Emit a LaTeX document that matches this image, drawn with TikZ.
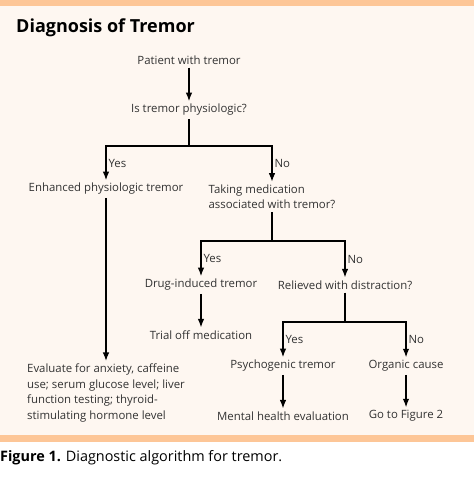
\documentclass[tikz,border=0pt]{standalone}
\usepackage{fontspec}
\setmainfont{Open Sans}
\usepackage{xcolor}
\usetikzlibrary{arrows.meta,calc}
\definecolor{bandorange}{HTML}{FDC697}
\definecolor{paper}{HTML}{FEF7F1}
\definecolor{inkgray}{HTML}{333333}
\begin{document}
\begin{tikzpicture}[x=1pt,y=-1pt,
        txt/.style={inner sep=3pt, text=inkgray, font=\fontsize{11.4}{15.4}\selectfont},
        flow/.style={line width=1.1pt, black},
        flowarrow/.style={flow, -{Latex[length=8.5pt,width=6.5pt]}},
        branch/.style={inner sep=2pt, text=inkgray, font=\fontsize{11.4}{13}\selectfont}]
        % page and bands
        \useasboundingbox (0,0) rectangle (474,478);
        \fill[white] (0,0) rectangle (474,478);
        \fill[paper] (0,0) rectangle (474,442);
        \fill[bandorange] (0,0) rectangle (474,6);
        \fill[bandorange] (0,435) rectangle (474,442);

        % coordinates
        \coordinate (j1) at (189,146);
        \coordinate (j3) at (272,241);
        \coordinate (j4) at (345,322);

        % Text
        \node[anchor=west, inner sep=0pt, text=black, font=\fontsize{18}{21}\bfseries\selectfont] (title) at (16,28) {Diagnosis of Tremor};
        \node[txt] (pat) at (189,60) {Patient with tremor};
        \node[txt] (phys) at (189,110) {Is tremor physiologic?};
        \node[txt] (enh) at (106,189) {Enhanced physiologic tremor};
        \node[txt, align=left] (med) at (272,197) {Taking medication\\associated with tremor?};
        \node[txt, align=left] (eval) at (106,393) {Evaluate for anxiety, caffeine\\use; serum glucose level; liver\\function testing; thyroid-\\stimulating hormone level};
        \node[txt] (drug) at (201,285) {Drug-induced tremor};
        \node[txt] (rel) at (345,285) {Relieved with distraction?};
        \node[txt] (trial) at (201,335) {Trial off medication};
        \node[txt] (psy) at (283,366) {Psychogenic tremor};
        \node[txt] (org) at (406,366) {Organic cause};
        \node[txt] (ment) at (283,416) {Mental health evaluation};
        \node[txt] (fig2) at (406,416) {Go to Figure 2};
        \node[anchor=west, inner sep=0pt, text=black, font=\fontsize{14.4}{17}\selectfont] (caption) at (0,458) {\textbf{Figure 1.} Diagnostic algorithm for tremor.};

        % connectors
        \draw[flowarrow] (pat) -- (phys);
        \draw[flow] (phys) -- (j1);
        \draw[flowarrow] (j1) -| node[branch, pos=0.75, right] {Yes} (enh);
        \draw[flowarrow] (j1) -| node[branch, pos=0.75, right] {No} (med);
        \draw[flowarrow] (enh) -- (eval);
        \draw[flow] (med) -- (j3);
        \draw[flowarrow] (j3) -| node[branch, pos=0.75, right] {Yes} (drug);
        \draw[flowarrow] (j3) -| node[branch, pos=0.75, right] {No} (rel);
        \draw[flowarrow] (drug) -- (trial);
        \draw[flow] (rel) -- (j4);
        \draw[flowarrow] (j4) -| node[branch, pos=0.75, right] {Yes} (psy);
        \draw[flowarrow] (j4) -| node[branch, pos=0.75, right] {No} (org);
        \draw[flowarrow] (psy) -- (ment);
        \draw[flowarrow] (org) -- (fig2);
    \end{tikzpicture}
\end{document}
